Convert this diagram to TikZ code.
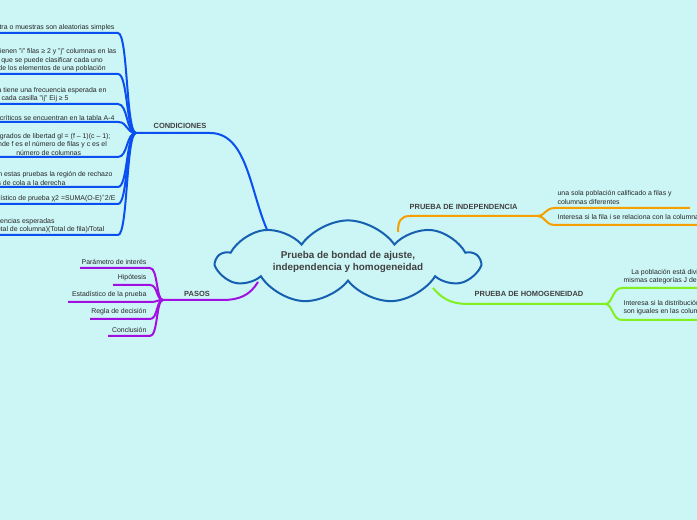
\documentclass[tikz,border=0pt]{standalone}
\usepackage{fontspec}
\setmainfont{Liberation Sans}
\usetikzlibrary{shapes.symbols}
\definecolor{bg}{HTML}{CCF5F5}
\definecolor{cb}{HTML}{0A4FF0}
\definecolor{co}{HTML}{F5A000}
\definecolor{cg}{HTML}{80F020}
\definecolor{cp}{HTML}{A010E0}
\definecolor{cl}{HTML}{1560B0}
\begin{document}
\begin{tikzpicture}[x=0.75pt,y=-0.75pt,
  lf/.style={font=\fontsize{5.2}{6.4}\selectfont,inner sep=1pt,text=black!85},
  hd/.style={font=\fontsize{5.6}{7}\selectfont\bfseries,text=black!75},
  bl/.style={cb,line width=1.5pt},
  ol/.style={co,line width=1.5pt},
  gl/.style={cg,line width=1.5pt},
  pl/.style={cp,line width=1.5pt}]
\fill[bg] (0,0) rectangle (697,520);
\useasboundingbox (0,0) rectangle (697,520);
% CONDICIONES
\coordinate (hc) at (136,133);
\draw[bl] (272,240) .. controls (250,200) and (250,133) .. (210,133) -- (hc);
\node[hd] (cond) at (180,126) {CONDICIONES};
\foreach \y in {33,74,104,122,157,187,204,235}{
  \draw[bl] (hc) .. controls (126,133) and (128,\y) .. (118,\y) -- (0,\y);}
\node[lf,anchor=south east] (c1) at (116,33) {La muestra o muestras son aleatorias simples};
\node[lf,anchor=south east,align=center] (c2) at (118,74) {Se tienen "i" filas ≥ 2 y "j" columnas en las\\que se puede clasificar cada uno\\de los elementos de una población};
\node[lf,anchor=south east,align=center] (c3) at (108,104) {Cada casilla tiene una frecuencia esperada en\\cada casilla "ij" Eij ≥ 5};
\node[lf,anchor=south east] (c4) at (116,122) {Los valores críticos se encuentran en la tabla A-4};
\node[lf,anchor=south east,align=center] (c5) at (112,157) {Los grados de libertad gl = (f – 1)(c – 1);\\donde f es el número de filas y c es el\\número de columnas};
\node[lf,anchor=south east,align=left] (c6) at (114,187) {En estas pruebas la región de rechazo\\es de cola a la derecha};
\node[lf,anchor=south east] (c7) at (117,204) {Estadístico de prueba χ2 =SUMA(O-E)\textsuperscript{\textasciicircum}2/E};
\node[lf,anchor=south east,align=left] (c8) at (106,235) {Frecuencias esperadas\\E=(Total de columna)(Total de fila)/Total};
% INDEPENDENCIA
\coordinate (ho) at (538,216);
\draw[ol] (398,232) .. controls (398,222) and (400,216) .. (410,216) -- (ho);
\node[hd,anchor=south west] (ind) at (405,214) {PRUEBA DE INDEPENDENCIA};
\draw[ol] (ho) .. controls (545,216) and (545,208) .. (555,208) -- (690,208);
\draw[ol] (ho) .. controls (545,216) and (545,225) .. (555,225) -- (697,225);
\node[lf,anchor=south west,align=left] (i1) at (556,206) {una sola población calificado a filas y\\columnas diferentes};
\node[lf,anchor=south west] (i2) at (556,223) {Interesa si la fila i se relaciona con la columna j};
% HOMOGENEIDAD
\coordinate (hg) at (605,304);
\draw[gl] (433,288) .. controls (445,302) and (455,304) .. (470,304) -- (hg);
\node[hd,anchor=south west] (hom) at (470,301) {PRUEBA DE HOMOGENEIDAD};
\draw[gl] (hg) .. controls (613,304) and (612,288) .. (622,288) -- (697,288);
\draw[gl] (hg) .. controls (613,304) and (612,320) .. (622,320) -- (697,320);
\node[lf,anchor=south west,align=center] (h1) at (622,286) {La población está dividida en las\\mismas categorías J de las columnas};
\node[lf,anchor=south west,align=left] (h2) at (622,317) {Interesa si la distribución de las filas\\son iguales en las columnas};
% PASOS
\coordinate (hp) at (163,300);
\draw[pl] (258,282) .. controls (250,295) and (240,300) .. (222,300) -- (hp);
\node[hd] (pas) at (197,294) {PASOS};
\node[lf,anchor=south east] (p1) at (148,266) {Parámetro de interés};
\node[lf,anchor=south east] (p2) at (148,283) {Hipótesis};
\node[lf,anchor=south east] (p3) at (148,300) {Estadístico de la prueba};
\node[lf,anchor=south east] (p4) at (148,317) {Regla de decisión};
\node[lf,anchor=south east] (p5) at (148,334) {Conclusión};
\foreach \y/\x in {268/80,285/113,302/68,319/90,336/108}{
  \draw[pl] (hp) .. controls (156,300) and (158,\y) .. (150,\y) -- (\x,\y);}
% root cloud
\node[cloud,cloud puffs=9,cloud puff arc=110,aspect=4.4,draw=cl,line width=1.5pt,fill=bg,minimum width=196pt,minimum height=44pt,inner sep=0pt,align=center,font=\fontsize{7.4}{9.4}\selectfont\bfseries,text=black!75] (root) at (348,262) {Prueba de bondad de ajuste,\\independencia y homogeneidad};
\end{tikzpicture}
\end{document}
